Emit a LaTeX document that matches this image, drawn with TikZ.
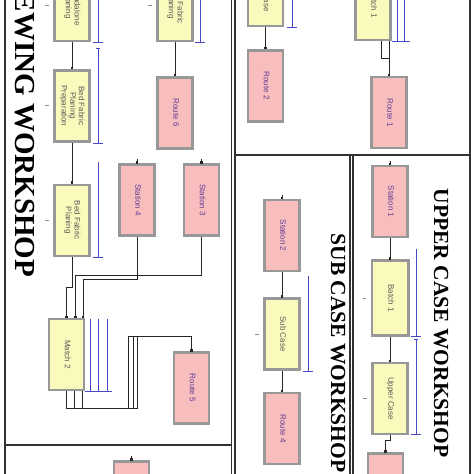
\documentclass[tikz,border=0pt]{standalone}
\usepackage{graphicx}
\usepackage{fontspec}
\setmainfont{Liberation Serif}
\setsansfont{Liberation Sans}
\usepackage{tikz}
\usetikzlibrary{arrows.meta, positioning}
\definecolor{ModYellow}{RGB}{250,250,188}
\definecolor{ModPink}{RGB}{248,190,190}
\definecolor{ModGray}{RGB}{152,152,152}
\definecolor{QueueBlue}{RGB}{72,72,196}
\definecolor{LabelPurple}{RGB}{96,60,150}
\definecolor{FrameGray}{RGB}{50,50,50}
\newcommand{\modtext}[1]{\rotatebox{-90}{\begin{tabular}{@{}c@{}}#1\end{tabular}}}
\tikzset{
  module/.style={draw=ModGray, line width=2.5pt, minimum width=35pt, minimum height=71pt, inner sep=1pt, font=\sffamily\fontsize{8}{8.6}\selectfont},
  proc/.style={module, fill=ModYellow, text=black!65},
  stat/.style={module, fill=ModPink, text=LabelPurple},
  flow/.style={draw=black!85, line width=0.7pt, -{Square[length=2.2pt,width=2.2pt]}},
  queue/.style={draw=QueueBlue, line width=0.9pt},
  wsframe/.style={draw=FrameGray, line width=1.4pt},
  wstitle/.style={rotate=-90, inner sep=0pt, font=\bfseries\fontsize{#1}{#1}\selectfont},
  resmark/.style={draw=black!45, line width=0.6pt}
}
\begin{document}
\begin{tikzpicture}[x=1pt, y=-1pt]
\useasboundingbox (0,0) rectangle (474,474);
\fill[white] (0,0) rectangle (474,474);
\clip (0,0) rectangle (474,474);
\draw[wsframe] (5,-20) rectangle (231.5,445);
\draw[wsframe] (5,445) rectangle (231.5,500);
\draw[wsframe] (235,-20) rectangle (470,155);
\draw[wsframe] (235,155) rectangle (350,500);
\draw[wsframe] (353,155) rectangle (470,500);
\node[wstitle=29] (SWT) at (25,127) {SEWING WORKSHOP};
\node[wstitle=21.5] (SCT) at (338,353) {SUB CASE WORKSHOP};
\node[wstitle=21.5] (UCT) at (441,323) {UPPER CASE WORKSHOP};
\node[proc] (SP) at (72,5.25) {\modtext{Standalone\\Planing}};
\node[proc, below=27pt of SP] (BFPP) {\modtext{Bed Fabric\\Planing\\Preparation}};
\node[proc, below=41pt of BFPP] (BFP) {\modtext{Bed Fabric\\Planing}};
\node[proc] (M2) at (66.5,354.5) {\modtext{Match 2}};
\node[proc] (TFP) at (175,5.25) {\modtext{Top Fabric\\Planing}};
\node[stat, below=34pt of TFP] (R6) {\modtext{Route 6}};
\node[stat] (S4) at (137,200) {\modtext{Station 4}};
\node[stat, right=27pt of S4] (S3) {\modtext{Station 3}};
\node[stat] (R5) at (191.5,388) {\modtext{Route 5}};
\node[stat] (SB) at (131.5,497) {};
\node[proc] (LC) at (265.5,-9.75) {\modtext{Lower Case}};
\node[stat, below=22pt of LC] (R2) {\modtext{Route 2}};
\node[proc] (B1T) at (373,4.25) {\modtext{Batch 1}};
\node[stat] (R1) at (389,112.5) {\modtext{Route 1}};
\node[stat] (S2) at (282,235.5) {\modtext{Station 2}};
\node[proc, below=25pt of S2] (SC) {\modtext{Sub Case}};
\node[stat, below=21pt of SC] (R4) {\modtext{Route 4}};
\node[stat] (S1) at (390,201.5) {\modtext{Station 1}};
\node[proc, below=21pt of S1, minimum width=36.5pt, minimum height=75pt] (B1) {\modtext{Batch 1}};
\node[proc, below=25pt of B1] (UC) {\modtext{Upper Case}};
\node[stat] (UB) at (385.5,489) {};
\draw[flow] (SP) -- (BFPP);
\draw[flow] (BFPP) -- (BFP);
\draw[flow] (BFP.south) -- ++(0,30) -| (M2.north);
\draw[flow] (S3.south) -- ++(0,39) -| ([xshift=9pt]M2.north);
\draw[flow] (S4.south) -- ++(0,43) -| ([xshift=16.5pt]M2.north);
\draw[flow] (TFP) -- (R6);
\draw[flow] (M2.south) -- ++(0,17) -| (128,336) -| (R5.north);
\draw[flow] ([xshift=8pt]M2.south) -- ++(0,17) -| (133,336) -| (R5.north);
\draw[flow] ([xshift=16pt]M2.south) -- ++(0,17) -| (137,336) -| (R5.north);
\draw[flow] (LC) -- (R2);
\draw[flow] ([xshift=8pt]B1T.south) -- ++(0,17) -| (R1.north);
\draw[flow] ([xshift=16pt]B1T.south) -- (R1.north);
\draw[flow] (S2) -- (SC);
\draw[flow] (SC) -- (R4);
\draw[flow] (S1) -- (B1);
\draw[flow] (B1) -- (UC);
\draw[flow] (UC.south) -- ++(0,5) -| (UB.north);
\foreach \n in {S4,S3,S2,S1,SB}
  \draw[flow] ([yshift=4pt]\n.north) -- (\n.north);
\foreach \n in {SP,BFPP,BFP,TFP,SC,B1,UC}
  \draw[resmark] ([xshift=-8pt]\n.west) -- ++(3.5pt,0);
\draw[queue] (98,-10) -- (98,42) (93,42) -- (103,42);
\draw[queue] (98,48) -- (98,143) (96,48) -- (100,48) (93,143) -- (103,143);
\draw[queue] (98,162) -- (98,257) (93,257) -- (103,257);
\draw[queue] (200,-10) -- (200,42) (195,42) -- (205,42);
\draw[queue] (90,319) -- (90,391) (98,319) -- (98,391) (107,319) -- (107,391) (85,391) -- (112,391);
\draw[queue] (292,-10) -- (292,27) (287,27) -- (297,27);
\draw[queue] (397,-10) -- (397,41) (404,-10) -- (404,41) (392,41) -- (410,41);
\draw[queue] (308,276) -- (308,371) (303,371) -- (313,371);
\draw[queue] (416,249) -- (416,336) (411,336) -- (421,336);
\draw[queue] (416,339) -- (416,434) (414,339) -- (418,339) (411,434) -- (421,434);
\end{tikzpicture}
\end{document}
